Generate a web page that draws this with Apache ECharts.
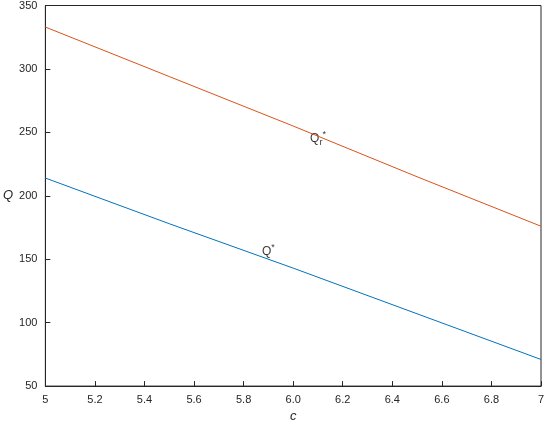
<!DOCTYPE html>
<html><head><meta charset="utf-8">
<script src="https://cdn.jsdelivr.net/npm/echarts@6/dist/echarts.min.js"></script>
<style>html,body{margin:0;padding:0;background:#fff}#c{width:550px;height:428px}</style>
</head><body><div id="c"></div>
<script>
const cValues = [5, 5.5, 6, 6.5, 7];
const qrStar = [333, 294, 255, 215, 176];
const qStar = [214, 178, 143, 107, 71];
const labelPos = [[6.1, 245, 'qr'], [5.9, 156, 'q']];
const chart = echarts.init(document.getElementById('c'));
const ax = {color:'#262626', fontSize:11, fontFamily:'Arial, Liberation Sans'};
chart.setOption({
  animation:false,
  grid:{left:42, right:9, top:4, bottom:31, show:true, borderColor:'#262626', borderWidth:1},
  xAxis:{type:'value', min:5, max:7, interval:0.2, name:'c', nameLocation:'middle', nameGap:18,
    nameTextStyle:{fontSize:13, color:'#262626', fontStyle:'italic'},
    axisLine:{lineStyle:{color:'#262626'}}, axisTick:{inside:true, length:5, lineStyle:{color:'#262626'}},
    splitLine:{show:false}, axisLabel:Object.assign({formatter:v=>v===5||v===7?String(v):v.toFixed(1)}, ax)},
  yAxis:{type:'value', min:50, max:350, interval:50, name:'Q', nameLocation:'middle', nameGap:28, nameRotate:0,
    nameTextStyle:{fontSize:13, color:'#262626', fontStyle:'italic'},
    axisLine:{lineStyle:{color:'#262626'}}, axisTick:{inside:true, length:5, lineStyle:{color:'#262626'}},
    splitLine:{show:false}, axisLabel:ax},
  series:[
    {type:'line', data:cValues.map((c,i)=>[c,qrStar[i]]), showSymbol:false, lineStyle:{color:'#D95319', width:1}, color:'#D95319'},
    {type:'line', data:cValues.map((c,i)=>[c,qStar[i]]), showSymbol:false, lineStyle:{color:'#0072BD', width:1}, color:'#0072BD'},
    {type:'scatter', symbolSize:0, data:labelPos.map(p=>({value:[p[0],p[1]], name:p[2]})),
      label:{show:true, position:'inside', formatter:p=>p.name==='qr'?'{m|Q}{s|r}{p|*}':'{m|Q}{p|*}',
        rich:{m:{fontSize:12, color:'#000', fontFamily:'Arial'}, s:{fontSize:9, color:'#000', verticalAlign:'bottom', padding:[8,0,0,0]}, p:{fontSize:9, color:'#000', verticalAlign:'top', padding:[0,0,8,0]}}}}
  ]
});
</script></body></html>
